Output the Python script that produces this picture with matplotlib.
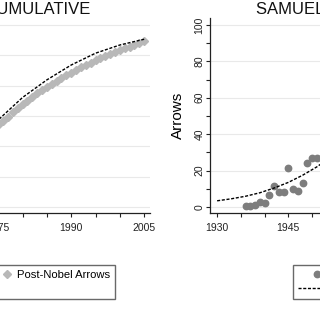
import matplotlib
matplotlib.use("Agg")
import matplotlib.pyplot as plt
from matplotlib.lines import Line2D
import numpy as np

plt.rcParams['font.family'] = ['Liberation Sans', 'DejaVu Sans']

# ---- Left panel: cumulative post-Nobel arrows (hundreds) ----
left_years = list(range(1971, 2006))
left_cum = [216, 231, 244, 257, 271, 285, 298, 312, 326, 339, 351, 363, 375, 386,
            396, 406, 415, 425, 434, 442, 451, 460, 468, 476, 484, 492, 498, 504,
            511, 518, 523, 529, 535, 541, 546]
left_fit_years = [1971, 1975, 1980, 1985, 1990, 1995, 2000, 2005]
left_fit = [226, 287, 361, 419, 468, 507, 534, 553]
left_yticks = [0, 100, 200, 300, 400, 500, 600]

# ---- Right panel: annual arrows ----
right_years = [1936, 1937, 1938, 1939, 1940, 1941, 1942, 1943, 1944, 1945,
               1946, 1947, 1948, 1949, 1950, 1951]
right_vals = [0.7, 0.5, 1.3, 2.8, 2.4, 6.6, 11.5, 8.1, 8.2, 21.3,
              9.7, 8.8, 13.4, 24.0, 27.1, 27.1]
right_fit_years = [1930, 1933, 1936, 1939, 1942, 1945, 1948, 1951, 1954]
right_fit = [3.4, 4.5, 5.9, 7.8, 10.4, 13.5, 17.4, 22.0, 27.5]
right_yticks = [0, 20, 40, 60, 80, 100]

xtick_labels = [1930, 1945, 1960, 1975, 1990, 2005]

W = H = 320.0
fig = plt.figure(figsize=(3.2, 3.2), dpi=100)

def px_axes(left, right, top, bottom):
    return fig.add_axes([left / W, 1 - bottom / H, (right - left) / W, (bottom - top) / H])

grid_c = '#e9e9e9'
spine_c = '#222222'
dash = (2.2, 1.2)

def style(ax):
    for s in ['top', 'right']:
        ax.spines[s].set_visible(False)
    for s in ['left', 'bottom']:
        ax.spines[s].set_color(spine_c)
        ax.spines[s].set_linewidth(0.9)
    ax.set_xticks(xtick_labels)
    ax.set_xticks(np.arange(1930, 2006, 5), minor=True)
    ax.tick_params(axis='both', which='both', length=2.6, width=0.8, color=spine_c,
                   labelsize=7.5, labelcolor='#222222')
    ax.tick_params(axis='x', which='both', pad=4.5)
    ax.tick_params(axis='y', which='both', pad=1.5)
    ax.grid(True, axis='y', color=grid_c, linewidth=0.8)
    ax.set_axisbelow(True)
    for lab in ax.get_yticklabels():
        lab.set_rotation(90)
        lab.set_va('center')

# Left axes
axL = px_axes(-228, 150, 18, 213)
axL.plot(left_years, left_cum, linestyle='none', marker='D', ms=4.0,
         color='#b8b8b8', mec='#b8b8b8', label='Post-Nobel Arrows')
axL.plot(left_fit_years, left_fit, color='black', lw=1.0, dashes=dash,
         label='Fitted values')
axL.set_xlim(1928.5, 2006.2)
axL.set_ylim(-19.8, 623)
axL.set_yticks(left_yticks)
axL.set_ylabel('Arrows', fontsize=11)
style(axL)

# Right axes
axR = px_axes(210, 580, 18, 213)
axR.plot(right_years, right_vals, linestyle='none', marker='o', ms=4.6,
         color='#7d7d7d', mec='#7d7d7d', label='Arrows')
axR.plot(right_fit_years, right_fit, color='black', lw=1.0, dashes=dash,
         label='Fitted values')
axR.set_xlim(1928.5, 2006.5)
axR.set_ylim(-3.3, 103.8)
axR.set_yticks(right_yticks)
axR.set_yticks(np.arange(0, 101, 10), minor=True)
axR.set_ylabel('Arrows', fontsize=11, labelpad=7)
style(axR)

# Titles
fig.text(90 / W, 1 - 13.5 / H, 'SAMUELSON: CUMULATIVE', ha='right', va='baseline',
         fontsize=12, color='#111111')
fig.text(256.5 / W, 1 - 13.5 / H, 'SAMUELSON: ANNUAL ARROWS', ha='left', va='baseline',
         fontsize=12, color='#111111')

# Legends
pre = Line2D([], [], linestyle='none', marker='D', ms=3.8, color='#6a6a6a')
post = Line2D([], [], linestyle='none', marker='D', ms=3.8, color='#b8b8b8')
fitL = Line2D([], [], color='black', lw=1.0, dashes=dash)
legL = fig.legend([pre, fitL, post], ['Pre-Nobel Arrows', 'Fitted values', 'Post-Nobel Arrows'],
                  ncol=2, loc='upper right', bbox_to_anchor=(115 / W, 1 - 265 / H),
                  fontsize=8.1, frameon=True, fancybox=False, handlelength=1.0,
                  handletextpad=0.4, borderpad=0.4, labelspacing=0.4,
                  columnspacing=1.5, borderaxespad=0)
legL.get_frame().set_edgecolor('#444444')
legL.get_frame().set_linewidth(1.0)

circ = Line2D([], [], linestyle='none', marker='o', ms=4.6, color='#7d7d7d')
fitR = Line2D([], [], color='black', lw=1.0, dashes=dash)
legR = fig.legend([circ, fitR], ['Arrows', 'Fitted values'],
                  ncol=1, loc='upper left', bbox_to_anchor=(293 / W, 1 - 265 / H),
                  fontsize=8.1, frameon=True, fancybox=False, handlelength=3.5,
                  handletextpad=0.6, borderpad=0.4, labelspacing=0.4,
                  borderaxespad=0)
legR.get_frame().set_edgecolor('#444444')
legR.get_frame().set_linewidth(1.0)

fig.savefig('out.png', dpi=100)
